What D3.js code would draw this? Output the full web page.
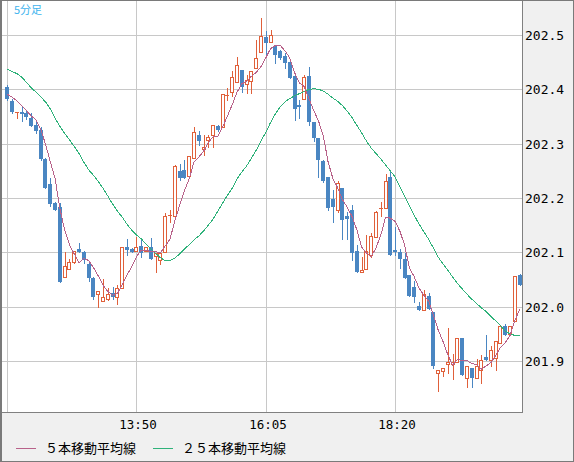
<!DOCTYPE html>
<html lang="ja">
<head>
<meta charset="UTF-8">
<title>5分足</title>
<script src="https://d3js.org/d3.v7.min.js"></script>
<style>
body { margin:0; background:#f0f0f0; }
svg { display:block; }
.grid line { stroke:#c8c8c8; shape-rendering:crispEdges; }
.axis-label { font-family:"DejaVu Sans Mono", monospace; font-size:13px; fill:#000; }
.legend text { font-family:"Noto Sans CJK JP", sans-serif; font-size:13px; fill:#000; }
</style>
</head>
<body>
<div id="chart"></div>
<script>
// 5 minute bars, first bar at 11:35
var startTime = "11:35";
var stepMinutes = 5;

var opens = [
  202.405,202.379,202.358,202.358,202.357,202.347,202.334,202.325,202.272,202.226,
  202.190,202.183,202.055,202.070,202.083,202.106,202.101,202.079,202.052,202.023,
  202.010,202.015,202.026,202.017,202.034,202.110,202.107,202.103,202.112,202.103,
  202.109,202.093,202.086,202.100,202.166,202.166,202.250,202.252,202.240,202.273,
  202.316,202.290,202.306,202.316,202.333,202.331,202.387,202.396,202.414,202.436,
  202.410,202.415,202.439,202.468,202.496,202.488,202.480,202.470,202.461,202.451,
  202.425,202.371,202.382,202.425,202.340,202.310,202.268,202.239,202.198,202.178,
  202.218,202.167,202.178,202.102,202.063,202.069,202.095,202.129,202.181,202.181,
  202.238,202.104,202.100,202.088,202.058,202.037,202.002,201.993,202.019,201.991,
  201.878,201.882,201.895,201.895,201.898,201.943,201.868,201.888,201.868,201.884,
  201.907,201.902,201.906,201.933,201.964,201.950,201.973,202.059];

var highs = [
  202.408,202.382,202.359,202.369,202.362,202.356,202.342,202.331,202.274,202.237,
  202.192,202.190,202.101,202.088,202.103,202.117,202.103,202.081,202.055,202.029,
  202.050,202.034,202.036,202.040,202.110,202.125,202.108,202.129,202.126,202.110,
  202.126,202.098,202.099,202.173,202.178,202.261,202.263,202.270,202.277,202.331,
  202.323,202.316,202.316,202.334,202.335,202.391,202.402,202.434,202.459,202.436,
  202.426,202.434,202.491,202.531,202.508,202.510,202.480,202.472,202.466,202.451,
  202.425,202.380,202.426,202.442,202.340,202.310,202.270,202.239,202.215,202.232,
  202.218,202.175,202.187,202.113,202.092,202.132,202.136,202.176,202.193,202.244,
  202.247,202.147,202.106,202.098,202.058,202.047,202.009,202.030,202.025,201.991,
  201.884,201.888,201.961,201.912,201.943,201.943,201.891,201.888,201.904,201.911,
  201.947,201.927,201.936,201.967,201.969,201.965,202.057,202.061];

var lows = [
  202.380,202.356,202.348,202.342,202.345,202.333,202.319,202.270,202.219,202.185,
  202.178,202.046,202.055,202.070,202.080,202.101,202.081,202.047,202.015,202.000,
  202.010,202.012,202.015,202.005,202.034,202.096,202.100,202.103,202.091,202.102,
  202.087,202.064,202.078,202.100,202.156,202.166,202.234,202.236,202.238,202.273,
  202.298,202.279,202.294,202.294,202.324,202.331,202.380,202.388,202.414,202.396,
  202.393,202.393,202.439,202.468,202.463,202.488,202.449,202.455,202.440,202.420,
  202.344,202.347,202.382,202.334,202.304,202.239,202.230,202.178,202.156,202.175,
  202.125,202.125,202.086,202.063,202.063,202.069,202.092,202.129,202.166,202.181,
  202.096,202.095,202.071,202.053,202.020,202.009,201.993,201.993,201.996,201.887,
  201.844,201.873,201.878,201.866,201.898,201.875,201.852,201.852,201.868,201.860,
  201.901,201.890,201.884,201.933,201.947,201.950,201.973,202.039];

var closes = [
  202.382,202.359,202.359,202.355,202.350,202.333,202.323,202.272,202.219,202.189,
  202.178,202.046,202.075,202.082,202.102,202.101,202.086,202.052,202.018,202.029,
  202.017,202.024,202.017,202.034,202.110,202.104,202.101,202.109,202.098,202.110,
  202.088,202.098,202.099,202.166,202.168,202.259,202.236,202.236,202.277,202.321,
  202.304,202.293,202.313,202.334,202.326,202.391,202.389,202.422,202.445,202.404,
  202.417,202.434,202.457,202.499,202.485,202.500,202.463,202.457,202.449,202.420,
  202.364,202.368,202.423,202.340,202.310,202.270,202.232,202.182,202.184,202.227,
  202.160,202.162,202.099,202.063,202.067,202.103,202.130,202.175,202.182,202.231,
  202.096,202.100,202.087,202.053,202.020,202.017,201.993,202.023,201.996,201.891,
  201.884,201.888,201.899,201.899,201.943,201.875,201.891,201.868,201.891,201.902,
  201.901,201.921,201.936,201.964,201.948,201.965,202.057,202.039];

// 5本移動平均線
var ma5 = [
  202.391,202.386,202.379,202.370,202.361,202.351,202.344,202.327,202.299,202.267,
  202.236,202.181,202.141,202.114,202.097,202.081,202.089,202.085,202.072,202.057,
  202.040,202.028,202.021,202.024,202.040,202.058,202.073,202.092,202.104,202.104,
  202.101,202.101,202.099,202.112,202.124,202.158,202.186,202.213,202.235,202.266,
  202.275,202.286,202.302,202.313,202.314,202.331,202.351,202.372,202.395,202.410,
  202.415,202.424,202.431,202.442,202.458,202.475,202.481,202.481,202.471,202.458,
  202.431,202.412,202.405,202.383,202.361,202.342,202.315,202.267,202.236,202.219,
  202.197,202.183,202.166,202.142,202.110,202.099,202.092,202.108,202.131,202.164,
  202.163,202.157,202.139,202.113,202.071,202.055,202.034,202.021,202.010,201.984,
  201.957,201.936,201.912,201.892,201.903,201.901,201.901,201.895,201.894,201.885,
  201.891,201.897,201.910,201.925,201.934,201.947,201.974,201.995];

// 25本移動平均線
var ma25 = [
  202.437,202.433,202.429,202.423,202.413,202.403,202.395,202.386,202.377,202.364,
  202.347,202.332,202.319,202.307,202.295,202.282,202.266,202.252,202.242,202.231,
  202.218,202.204,202.189,202.176,202.165,202.152,202.141,202.132,202.125,202.115,
  202.106,202.098,202.090,202.085,202.085,202.089,202.097,202.106,202.114,202.123,
  202.130,202.139,202.150,202.161,202.176,202.191,202.205,202.218,202.235,202.248,
  202.259,202.273,202.288,202.305,202.321,202.339,202.355,202.368,202.377,202.383,
  202.388,202.392,202.396,202.400,202.401,202.400,202.397,202.391,202.384,202.378,
  202.370,202.360,202.348,202.334,202.320,202.305,202.292,202.282,202.272,202.261,
  202.250,202.239,202.221,202.203,202.185,202.168,202.152,202.138,202.124,202.108,
  202.091,202.079,202.067,202.055,202.043,202.033,202.023,202.014,202.006,201.998,
  201.991,201.982,201.974,201.965,201.955,201.950,201.947,201.946];

var priceTicks = [201.9, 202.0, 202.1, 202.2, 202.3, 202.4, 202.5];
var timeTicks = ["11:35", "13:50", "16:05", "18:20"];
var seriesNames = ["５本移動平均線", "２５本移動平均線"];

var upColor = "#e0603a", downColor = "#4a86c2";
var ma5Color = "#b8628a", ma25Color = "#2fb27a";

var W = 574, H = 462;
var plotW = 522, plotH = 412;

var t0 = startTime.split(":");
var times = closes.map(function(d, i) {
  var m = (+t0[0]) * 60 + (+t0[1]) + i * stepMinutes;
  return Math.floor(m / 60) + ":" + d3.format("02")(m % 60);
});

var x = d3.scaleLinear()
    .domain([-1.5, closes.length - 0.5])
    .range([0, plotW]);

var y = d3.scaleLinear()
    .domain([201.9, 202.5])
    .range([361, 35]);

var svg = d3.select("#chart").append("svg")
    .attr("width", W)
    .attr("height", H);

svg.append("rect")
    .attr("width", W).attr("height", H)
    .attr("fill", "#f0f0f0");

svg.append("rect")
    .attr("x", 0).attr("y", 0)
    .attr("width", plotW).attr("height", plotH)
    .attr("fill", "#fff");

svg.append("clipPath").attr("id", "plot-clip")
  .append("rect")
    .attr("x", 0).attr("y", 1)
    .attr("width", plotW).attr("height", plotH - 1);

// grid
var grid = svg.append("g").attr("class", "grid");

grid.selectAll(".hgrid")
    .data(priceTicks)
  .enter().append("line")
    .attr("x1", 0).attr("x2", plotW)
    .attr("y1", function(d) { return Math.round(y(d)) + 0.5; })
    .attr("y2", function(d) { return Math.round(y(d)) + 0.5; });

grid.selectAll(".vgrid")
    .data(timeTicks)
  .enter().append("line")
    .attr("x1", function(d) { return Math.round(x(times.indexOf(d))) + 0.5; })
    .attr("x2", function(d) { return Math.round(x(times.indexOf(d))) + 0.5; })
    .attr("y1", 0).attr("y2", plotH);

var plot = svg.append("g").attr("clip-path", "url(#plot-clip)");

// candles
var candles = closes.map(function(c, i) {
  return { i: i, o: opens[i], h: highs[i], l: lows[i], c: c };
});

var candle = plot.selectAll(".candle")
    .data(candles)
  .enter().append("g")
    .attr("class", "candle")
    .style("shape-rendering", "crispEdges");

candle.append("rect")
    .attr("x", function(d) { return Math.round(x(d.i)); })
    .attr("width", 1)
    .attr("y", function(d) { return Math.round(y(d.h)); })
    .attr("height", function(d) { return Math.max(1, Math.round(y(d.l)) - Math.round(y(d.h)) + 1); })
    .attr("fill", function(d) { return d.c >= d.o ? upColor : downColor; });

candle.each(function(d) {
  var g = d3.select(this);
  var cx = Math.round(x(d.i));
  var top = Math.round(y(Math.max(d.o, d.c)));
  var bot = Math.round(y(Math.min(d.o, d.c)));
  var hgt = bot - top;
  if (d.c >= d.o) {
    if (hgt < 2) {
      g.append("rect")
          .attr("x", cx - 2).attr("y", top)
          .attr("width", 4).attr("height", 1)
          .attr("fill", upColor);
    } else {
      g.append("rect")
          .attr("x", cx - 1.5).attr("y", top + 0.5)
          .attr("width", 3).attr("height", hgt)
          .attr("fill", "#fff")
          .attr("stroke", upColor)
          .attr("stroke-width", 1);
    }
  } else {
    g.append("rect")
        .attr("x", cx - 2).attr("y", top)
        .attr("width", 4).attr("height", Math.max(1, hgt))
        .attr("fill", downColor);
  }
});

// moving averages
var line = d3.line()
    .x(function(d, i) { return x(i); })
    .y(function(d) { return y(d); });

plot.append("path")
    .datum(ma25)
    .attr("d", line)
    .attr("fill", "none")
    .attr("stroke", ma25Color)
    .attr("stroke-width", 1)
    .style("shape-rendering", "crispEdges");

plot.append("path")
    .datum(ma5)
    .attr("d", line)
    .attr("fill", "none")
    .attr("stroke", ma5Color)
    .attr("stroke-width", 1)
    .style("shape-rendering", "crispEdges");

// frame
svg.append("line")
    .attr("x1", plotW + 0.5).attr("x2", plotW + 0.5)
    .attr("y1", 0).attr("y2", plotH + 1)
    .attr("stroke", "#808080");
svg.append("line")
    .attr("x1", 0).attr("x2", plotW + 1)
    .attr("y1", plotH + 0.5).attr("y2", plotH + 0.5)
    .attr("stroke", "#808080");
svg.append("rect")
    .attr("x", 0.5).attr("y", 0.5)
    .attr("width", W - 1).attr("height", H - 1)
    .attr("fill", "none")
    .attr("stroke", "#7a7a7a");
svg.append("line")
    .attr("x1", 1.5).attr("x2", 1.5)
    .attr("y1", 0).attr("y2", H)
    .attr("stroke", "#7a7a7a");

// price labels
svg.selectAll(".ylabel")
    .data(priceTicks)
  .enter().append("text")
    .attr("class", "axis-label")
    .attr("x", plotW + 3)
    .attr("y", function(d) { return Math.round(y(d)); })
    .attr("dy", "0.35em")
    .text(function(d) { return d.toFixed(1); });

// time labels (the one at the left edge does not fit)
svg.selectAll(".xlabel")
    .data(timeTicks.filter(function(d) { return x(times.indexOf(d)) > 20; }))
  .enter().append("text")
    .attr("class", "axis-label")
    .attr("x", function(d) { return Math.round(x(times.indexOf(d))) + 2; })
    .attr("y", 425)
    .attr("dy", "0.35em")
    .attr("text-anchor", "middle")
    .style("font-size", "12.5px")
    .text(function(d) { return d; });

svg.append("text")
    .attr("x", 14)
    .attr("y", 10)
    .attr("dy", "0.35em")
    .style("font-family", "'Noto Sans CJK JP', sans-serif")
    .style("font-size", "11px")
    .attr("fill", "#40b4ee")
    .text("5分足");

// legend
var legend = svg.selectAll(".legend")
    .data(seriesNames)
  .enter().append("g")
    .attr("class", "legend")
    .attr("transform", function(d, i) { return "translate(" + (i === 0 ? 16 : 153) + ",448)"; });

legend.append("line")
    .attr("x1", 0).attr("x2", 20)
    .attr("y1", 0.5).attr("y2", 0.5)
    .attr("stroke", function(d, i) { return i === 0 ? ma5Color : ma25Color; });

legend.append("text")
    .attr("x", 29)
    .attr("dy", "0.35em")
    .text(function(d) { return d; });
</script>
</body>
</html>
